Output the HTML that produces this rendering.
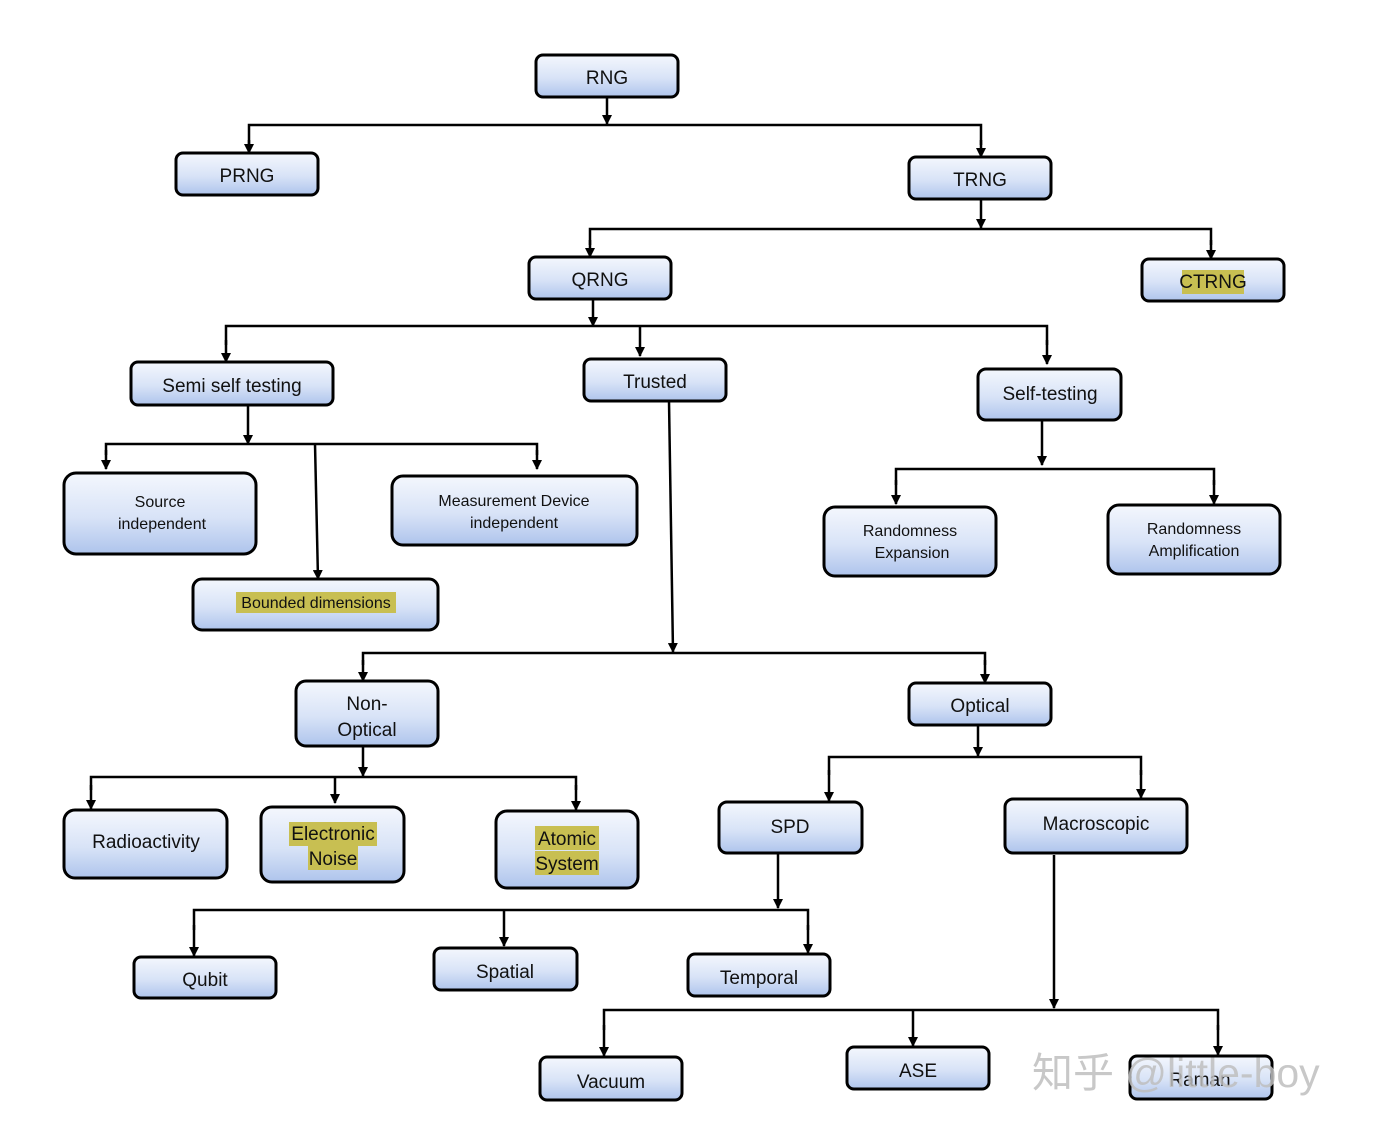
<!DOCTYPE html>
<html><head><meta charset="utf-8"><style>
html,body{margin:0;padding:0;background:#fff;}
svg text{font-family:"Liberation Sans","DejaVu Sans",sans-serif;fill:#111;text-anchor:middle;}
</style></head><body>
<svg width="1375" height="1134" viewBox="0 0 1375 1134" xmlns="http://www.w3.org/2000/svg">
<defs>
<linearGradient id="g" x1="0" y1="0" x2="0" y2="1">
<stop offset="0" stop-color="#f4f7fd"/><stop offset="0.55" stop-color="#d8e3f7"/><stop offset="1" stop-color="#aec4ec"/>
</linearGradient>
<marker id="a" markerWidth="10" markerHeight="10" refX="9" refY="5" orient="auto" markerUnits="userSpaceOnUse" viewBox="0 0 10 10">
<path d="M0,0 L10,5 L0,10 z" fill="#000"/></marker>
</defs>
<g stroke="#000" stroke-width="2.5" fill="none">
<line x1="607" y1="97" x2="607" y2="124" marker-end="url(#a)"/>
<polyline points="249,145 249,125 981,125 981,145" />
<line x1="249" y1="140" x2="249" y2="153" marker-end="url(#a)"/>
<line x1="981" y1="140" x2="981" y2="157" marker-end="url(#a)"/>
<line x1="981" y1="199" x2="981" y2="228" marker-end="url(#a)"/>
<polyline points="590,245 590,229 1211,229 1211,245"/>
<line x1="590" y1="240" x2="590" y2="257" marker-end="url(#a)"/>
<line x1="1211" y1="240" x2="1211" y2="259" marker-end="url(#a)"/>
<line x1="593" y1="299" x2="593" y2="326" marker-end="url(#a)"/>
<polyline points="226,345 226,326 1047,326 1047,345"/>
<line x1="226" y1="340" x2="226" y2="362" marker-end="url(#a)"/>
<line x1="640" y1="326" x2="640" y2="356" marker-end="url(#a)"/>
<line x1="1047" y1="340" x2="1047" y2="364" marker-end="url(#a)"/>
<line x1="248" y1="405" x2="248" y2="444" marker-end="url(#a)"/>
<polyline points="106,455 106,444 537,444 537,455"/>
<line x1="106" y1="450" x2="106" y2="469" marker-end="url(#a)"/>
<line x1="537" y1="450" x2="537" y2="469" marker-end="url(#a)"/>
<line x1="315" y1="444" x2="318" y2="579" marker-end="url(#a)"/>
<line x1="669" y1="401" x2="673" y2="652" marker-end="url(#a)"/>
<polyline points="363,665 363,653 985,653 985,665"/>
<line x1="363" y1="660" x2="363" y2="681" marker-end="url(#a)"/>
<line x1="985" y1="660" x2="985" y2="683" marker-end="url(#a)"/>
<line x1="1042" y1="420" x2="1042" y2="465" marker-end="url(#a)"/>
<polyline points="896,485 896,469 1214,469 1214,485"/>
<line x1="896" y1="480" x2="896" y2="504" marker-end="url(#a)"/>
<line x1="1214" y1="480" x2="1214" y2="504" marker-end="url(#a)"/>
<line x1="363" y1="746" x2="363" y2="776" marker-end="url(#a)"/>
<polyline points="91,790 91,777 576,777 576,790"/>
<line x1="91" y1="785" x2="91" y2="809" marker-end="url(#a)"/>
<line x1="335" y1="777" x2="335" y2="803" marker-end="url(#a)"/>
<line x1="576" y1="785" x2="576" y2="810" marker-end="url(#a)"/>
<line x1="978" y1="725" x2="978" y2="756" marker-end="url(#a)"/>
<polyline points="829,775 829,757 1141,757 1141,775"/>
<line x1="829" y1="770" x2="829" y2="801" marker-end="url(#a)"/>
<line x1="1141" y1="770" x2="1141" y2="798" marker-end="url(#a)"/>
<line x1="778" y1="853" x2="778" y2="908" marker-end="url(#a)"/>
<polyline points="194,930 194,910 808,910 808,930"/>
<line x1="194" y1="925" x2="194" y2="956" marker-end="url(#a)"/>
<line x1="504" y1="910" x2="504" y2="946" marker-end="url(#a)"/>
<line x1="808" y1="925" x2="808" y2="953" marker-end="url(#a)"/>
<line x1="1054" y1="855" x2="1054" y2="1008" marker-end="url(#a)"/>
<polyline points="604,1030 604,1010 1218,1010 1218,1030"/>
<line x1="604" y1="1025" x2="604" y2="1056" marker-end="url(#a)"/>
<line x1="913" y1="1010" x2="913" y2="1046" marker-end="url(#a)"/>
<line x1="1218" y1="1025" x2="1218" y2="1055" marker-end="url(#a)"/>
</g>
<g fill="url(#g)" stroke="#000" stroke-width="3">
<rect x="536" y="55" width="142" height="42" rx="7"/>
<rect x="176" y="153" width="142" height="42" rx="7"/>
<rect x="909" y="157" width="142" height="42" rx="7"/>
<rect x="529" y="257" width="142" height="42" rx="7"/>
<rect x="1142" y="259" width="142" height="42" rx="7"/>
<rect x="131" y="362" width="202" height="43" rx="7"/>
<rect x="584" y="359" width="142" height="42" rx="7"/>
<rect x="978" y="369" width="143" height="51" rx="8"/>
<rect x="64" y="473" width="192" height="81" rx="12"/>
<rect x="392" y="476" width="245" height="69" rx="11"/>
<rect x="193" y="579" width="245" height="51" rx="9"/>
<rect x="824" y="507" width="172" height="69" rx="11"/>
<rect x="1108" y="505" width="172" height="69" rx="11"/>
<rect x="296" y="681" width="142" height="65" rx="10"/>
<rect x="909" y="683" width="142" height="42" rx="7"/>
<rect x="64" y="810" width="163" height="68" rx="11"/>
<rect x="261" y="807" width="143" height="75" rx="11"/>
<rect x="496" y="811" width="142" height="77" rx="11"/>
<rect x="719" y="802" width="143" height="51" rx="8"/>
<rect x="1005" y="799" width="182" height="54" rx="8"/>
<rect x="134" y="957" width="142" height="41" rx="7"/>
<rect x="434" y="948" width="143" height="42" rx="7"/>
<rect x="688" y="954" width="142" height="42" rx="7"/>
<rect x="540" y="1057" width="142" height="43" rx="7"/>
<rect x="847" y="1047" width="142" height="42" rx="7"/>
<rect x="1130" y="1056" width="142" height="43" rx="7"/>
</g>
<g fill="#c8bf52">
<rect x="1182" y="270" width="62" height="24"/>
<rect x="236" y="592" width="160" height="21"/>
<rect x="289" y="822" width="88" height="24"/>
<rect x="308" y="846" width="50" height="24"/>
<rect x="535" y="826" width="64" height="24"/>
<rect x="535" y="851" width="64" height="24"/>
</g>
<g font-size="19">
<text x="607" y="84">RNG</text>
<text x="247" y="182">PRNG</text>
<text x="980" y="186">TRNG</text>
<text x="600" y="286">QRNG</text>
<text x="1213" y="288">CTRNG</text>
<text x="232" y="392">Semi self testing</text>
<text x="655" y="388">Trusted</text>
<text x="1050" y="400">Self-testing</text>
<text x="367" y="710">Non-</text>
<text x="367" y="736">Optical</text>
<text x="980" y="712">Optical</text>
<text x="146" y="848">Radioactivity</text>
<text x="333" y="840">Electronic</text>
<text x="333" y="865">Noise</text>
<text x="567" y="845">Atomic</text>
<text x="567" y="870">System</text>
<text x="790" y="833">SPD</text>
<text x="1096" y="830">Macroscopic</text>
<text x="205" y="986">Qubit</text>
<text x="505" y="978">Spatial</text>
<text x="759" y="984">Temporal</text>
<text x="611" y="1088">Vacuum</text>
<text x="918" y="1077">ASE</text>
<text x="1200" y="1086">Raman</text>
</g>
<g font-size="16">
<text x="160" y="507">Source</text>
<text x="162" y="529">independent</text>
<text x="514" y="506">Measurement Device</text>
<text x="514" y="528">independent</text>
<text x="316" y="608">Bounded dimensions</text>
<text x="910" y="536">Randomness</text>
<text x="912" y="558">Expansion</text>
<text x="1194" y="534">Randomness</text>
<text x="1194" y="556">Amplification</text>
</g>
<text x="1032" y="1087" font-size="41" style="text-anchor:start;fill:rgba(190,190,190,0.85);font-family:'Liberation Sans','Noto Sans CJK SC',sans-serif">知乎 @little-boy</text>
</svg>
</body></html>
